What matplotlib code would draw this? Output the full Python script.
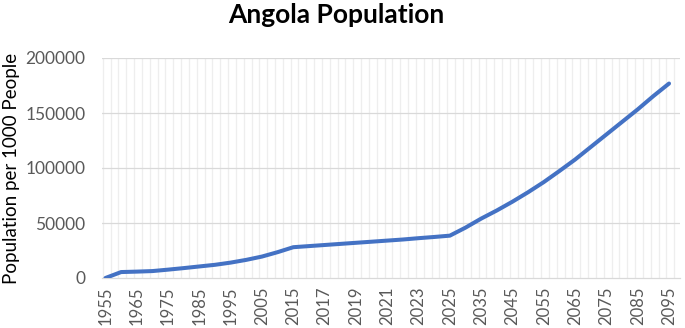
import numpy as np
import matplotlib.pyplot as plt

# Angola population (thousands)
years = [1955, 1960, 1965, 1970, 1975, 1980, 1985, 1990, 1995, 2000, 2005, 2010,
         2015, 2016, 2017, 2018, 2019, 2020, 2021, 2022, 2023, 2024, 2025,
         2030, 2035, 2040, 2045, 2050, 2055, 2060, 2065, 2070, 2075, 2080,
         2085, 2090, 2095]
population = [0, 5400, 5800, 6300, 7600, 9000, 10500, 12000, 14000, 16500, 19500, 23500,
              28000, 29000, 30000, 31000, 32000, 33000, 34000, 35000, 36200, 37300, 38500,
              45800, 54000, 61400, 69400, 78000, 87200, 97300, 107700, 119100, 130500,
              141900, 153300, 165400, 176800]
y_ticks = [0, 50000, 100000, 150000, 200000]

plt.rcParams['font.family'] = ['Lato', 'DejaVu Sans']

fig = plt.figure(figsize=(6.85, 3.28), dpi=100)
ax = fig.add_axes([102 / 685, 1 - 278 / 328, 578 / 685, 220 / 328])

x = np.arange(len(years))
ax.plot(x, population, color='#4472C4', linewidth=2.9, solid_capstyle='round',
        solid_joinstyle='round', zorder=3)

# gridlines
x_lo, x_hi = -0.22, len(years) - 0.3
for gx in np.arange(x_lo + 0.05, x_hi, 0.5):
    ax.axvline(gx, color='#EEEEEE', linewidth=0.9, zorder=1)
for gy in y_ticks[1:]:
    ax.axhline(gy, color='#D9D9D9', linewidth=0.9, zorder=1)

ax.set_xlim(x_lo, x_hi)
ax.set_ylim(0, 200000)

ax.set_xticks(x[::2])
ax.set_xticklabels([str(y) for y in years[::2]], rotation=90, fontsize=12, color='#595959')
ax.set_yticks(y_ticks)
ax.set_yticklabels([str(v) for v in y_ticks], fontsize=12.5, color='#595959')
ax.tick_params(axis='x', length=0, pad=6)
ax.tick_params(axis='y', length=0, pad=12)

for side in ['top', 'right', 'left']:
    ax.spines[side].set_visible(False)
ax.spines['bottom'].set_color('#D9D9D9')
ax.spines['bottom'].set_linewidth(0.9)

ax.set_ylabel('Population per 1000 People', fontsize=13.5, color='#000000', labelpad=4)
fig.suptitle('Angola Population', fontsize=19, fontweight='bold', color='#000000',
             x=336 / 685, y=1 - 3 / 328, va='top')

fig.savefig('out.png', dpi=100, facecolor='white')
